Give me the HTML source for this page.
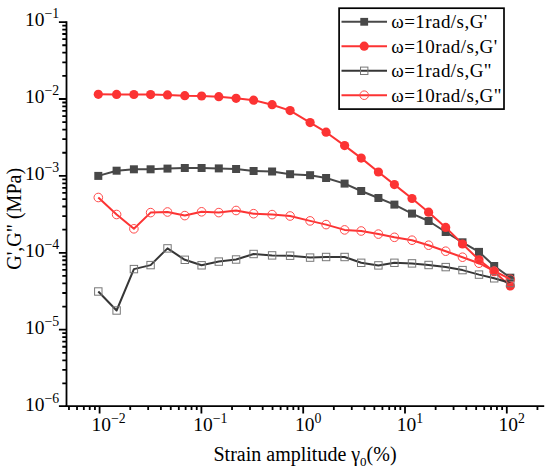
<!DOCTYPE html>
<html><head><meta charset="utf-8"><style>html,body{margin:0;padding:0;background:#fff;width:550px;height:475px;overflow:hidden}svg{display:block}</style></head>
<body><svg width="550" height="475" viewBox="0 0 550 475">
<rect width="550" height="475" fill="#fff"/>
<line x1="66.5" y1="22.1" x2="66.5" y2="406.1" stroke="#000" stroke-width="1.8" stroke-linecap="square"/>
<line x1="65.6" y1="406.1" x2="544.2" y2="406.1" stroke="#000" stroke-width="1.8"/>
<path d="M58.90 22.10H66.5 M62.30 75.85H66.5 M62.30 62.31H66.5 M62.30 52.70H66.5 M62.30 45.25H66.5 M62.30 39.16H66.5 M62.30 34.01H66.5 M62.30 29.55H66.5 M62.30 25.62H66.5 M58.90 99.00H66.5 M62.30 152.75H66.5 M62.30 139.21H66.5 M62.30 129.60H66.5 M62.30 122.15H66.5 M62.30 116.06H66.5 M62.30 110.91H66.5 M62.30 106.45H66.5 M62.30 102.52H66.5 M58.90 175.90H66.5 M62.30 229.65H66.5 M62.30 216.11H66.5 M62.30 206.50H66.5 M62.30 199.05H66.5 M62.30 192.96H66.5 M62.30 187.81H66.5 M62.30 183.35H66.5 M62.30 179.42H66.5 M58.90 252.80H66.5 M62.30 306.55H66.5 M62.30 293.01H66.5 M62.30 283.40H66.5 M62.30 275.95H66.5 M62.30 269.86H66.5 M62.30 264.71H66.5 M62.30 260.25H66.5 M62.30 256.32H66.5 M58.90 329.70H66.5 M62.30 383.45H66.5 M62.30 369.91H66.5 M62.30 360.30H66.5 M62.30 352.85H66.5 M62.30 346.76H66.5 M62.30 341.61H66.5 M62.30 337.15H66.5 M62.30 333.22H66.5 M58.90 406.10H66.5 M68.96 406.1V409.90 M77.02 406.1V409.90 M83.83 406.1V409.90 M89.73 406.1V409.90 M94.94 406.1V409.90 M99.60 406.1V413.60 M130.24 406.1V409.90 M148.17 406.1V409.90 M160.89 406.1V409.90 M170.76 406.1V409.90 M178.82 406.1V409.90 M185.63 406.1V409.90 M191.53 406.1V409.90 M196.74 406.1V409.90 M201.40 406.1V413.60 M232.04 406.1V409.90 M249.97 406.1V409.90 M262.69 406.1V409.90 M272.56 406.1V409.90 M280.62 406.1V409.90 M287.43 406.1V409.90 M293.33 406.1V409.90 M298.54 406.1V409.90 M303.20 406.1V413.60 M333.84 406.1V409.90 M351.77 406.1V409.90 M364.49 406.1V409.90 M374.36 406.1V409.90 M382.42 406.1V409.90 M389.23 406.1V409.90 M395.13 406.1V409.90 M400.34 406.1V409.90 M405.00 406.1V413.60 M435.64 406.1V409.90 M453.57 406.1V409.90 M466.29 406.1V409.90 M476.16 406.1V409.90 M484.22 406.1V409.90 M491.03 406.1V409.90 M496.93 406.1V409.90 M502.14 406.1V409.90 M506.80 406.1V413.60 M537.44 406.1V409.90" stroke="#000" stroke-width="1.8" fill="none"/>
<text font-family="Liberation Serif" font-size="19.5" x="59.1" y="26.30" text-anchor="end">10<tspan font-size="13.8" dy="-8.3">−1</tspan></text>
<text font-family="Liberation Serif" font-size="19.5" x="59.1" y="103.20" text-anchor="end">10<tspan font-size="13.8" dy="-8.3">−2</tspan></text>
<text font-family="Liberation Serif" font-size="19.5" x="59.1" y="180.10" text-anchor="end">10<tspan font-size="13.8" dy="-8.3">−3</tspan></text>
<text font-family="Liberation Serif" font-size="19.5" x="59.1" y="257.00" text-anchor="end">10<tspan font-size="13.8" dy="-8.3">−4</tspan></text>
<text font-family="Liberation Serif" font-size="19.5" x="59.1" y="333.90" text-anchor="end">10<tspan font-size="13.8" dy="-8.3">−5</tspan></text>
<text font-family="Liberation Serif" font-size="19.5" x="59.1" y="410.80" text-anchor="end">10<tspan font-size="13.8" dy="-8.3">−6</tspan></text>
<text font-family="Liberation Serif" font-size="19.5" x="91.40" y="430.60">10<tspan font-size="13.8" dy="-7.5">−2</tspan></text>
<text font-family="Liberation Serif" font-size="19.5" x="193.20" y="430.60">10<tspan font-size="13.8" dy="-7.5">−1</tspan></text>
<text font-family="Liberation Serif" font-size="19.5" x="295.00" y="430.60">10<tspan font-size="13.8" dy="-7.5">0</tspan></text>
<text font-family="Liberation Serif" font-size="19.5" x="396.80" y="430.60">10<tspan font-size="13.8" dy="-7.5">1</tspan></text>
<text font-family="Liberation Serif" font-size="19.5" x="498.60" y="430.60">10<tspan font-size="13.8" dy="-7.5">2</tspan></text>
<text font-family="Liberation Serif" font-size="20" x="213.5" y="461">Strain amplitude γ<tspan font-size="13" dy="4.6">0</tspan><tspan dy="-4.6">(%)</tspan></text>
<text font-family="Liberation Serif" font-size="20" transform="translate(21,269.7) rotate(-90)">G',G" (MPa)</text>
<polyline points="98.3,175.9 116.6,170.7 133.9,169.3 150.6,169.3 167.5,168.6 184.8,168.0 201.6,168.0 218.8,168.4 236.1,169.0 253.6,171.0 272.1,171.5 290.1,174.2 310.1,175.2 326.1,178.0 344.6,183.6 361.2,191.0 378.4,198.0 394.4,204.6 412.0,213.6 428.6,221.0 445.7,232.0 462.5,242.3 479.0,251.9 494.2,266.0 510.3,277.7" fill="none" stroke="#484848" stroke-width="2.0" stroke-linejoin="round"/>
<rect x="94.30" y="171.90" width="8.0" height="8.0" fill="#484848"/>
<rect x="112.60" y="166.70" width="8.0" height="8.0" fill="#484848"/>
<rect x="129.90" y="165.30" width="8.0" height="8.0" fill="#484848"/>
<rect x="146.60" y="165.30" width="8.0" height="8.0" fill="#484848"/>
<rect x="163.50" y="164.60" width="8.0" height="8.0" fill="#484848"/>
<rect x="180.80" y="164.00" width="8.0" height="8.0" fill="#484848"/>
<rect x="197.60" y="164.00" width="8.0" height="8.0" fill="#484848"/>
<rect x="214.80" y="164.40" width="8.0" height="8.0" fill="#484848"/>
<rect x="232.10" y="165.00" width="8.0" height="8.0" fill="#484848"/>
<rect x="249.60" y="167.00" width="8.0" height="8.0" fill="#484848"/>
<rect x="268.10" y="167.50" width="8.0" height="8.0" fill="#484848"/>
<rect x="286.10" y="170.20" width="8.0" height="8.0" fill="#484848"/>
<rect x="306.10" y="171.20" width="8.0" height="8.0" fill="#484848"/>
<rect x="322.10" y="174.00" width="8.0" height="8.0" fill="#484848"/>
<rect x="340.60" y="179.60" width="8.0" height="8.0" fill="#484848"/>
<rect x="357.20" y="187.00" width="8.0" height="8.0" fill="#484848"/>
<rect x="374.40" y="194.00" width="8.0" height="8.0" fill="#484848"/>
<rect x="390.40" y="200.60" width="8.0" height="8.0" fill="#484848"/>
<rect x="408.00" y="209.60" width="8.0" height="8.0" fill="#484848"/>
<rect x="424.60" y="217.00" width="8.0" height="8.0" fill="#484848"/>
<rect x="441.70" y="228.00" width="8.0" height="8.0" fill="#484848"/>
<rect x="458.50" y="238.30" width="8.0" height="8.0" fill="#484848"/>
<rect x="475.00" y="247.90" width="8.0" height="8.0" fill="#484848"/>
<rect x="490.20" y="262.00" width="8.0" height="8.0" fill="#484848"/>
<rect x="506.30" y="273.70" width="8.0" height="8.0" fill="#484848"/>
<polyline points="98.3,94.3 116.6,94.4 133.9,94.5 150.6,94.6 167.5,94.9 184.8,95.7 201.6,96.0 218.8,96.7 236.1,98.3 253.6,100.2 272.1,104.7 290.1,110.6 310.1,122.6 326.1,132.2 344.6,145.6 361.2,158.1 378.4,172.0 394.4,184.6 412.0,198.5 428.6,212.2 445.7,227.4 462.5,244.0 479.0,259.8 494.2,271.7 510.3,286.0" fill="none" stroke="#fc3333" stroke-width="2.0" stroke-linejoin="round"/>
<circle cx="98.30" cy="94.30" r="4.6" fill="#fc3333"/>
<circle cx="116.60" cy="94.40" r="4.6" fill="#fc3333"/>
<circle cx="133.90" cy="94.50" r="4.6" fill="#fc3333"/>
<circle cx="150.60" cy="94.60" r="4.6" fill="#fc3333"/>
<circle cx="167.50" cy="94.90" r="4.6" fill="#fc3333"/>
<circle cx="184.80" cy="95.70" r="4.6" fill="#fc3333"/>
<circle cx="201.60" cy="96.00" r="4.6" fill="#fc3333"/>
<circle cx="218.80" cy="96.70" r="4.6" fill="#fc3333"/>
<circle cx="236.10" cy="98.30" r="4.6" fill="#fc3333"/>
<circle cx="253.60" cy="100.20" r="4.6" fill="#fc3333"/>
<circle cx="272.10" cy="104.70" r="4.6" fill="#fc3333"/>
<circle cx="290.10" cy="110.60" r="4.6" fill="#fc3333"/>
<circle cx="310.10" cy="122.60" r="4.6" fill="#fc3333"/>
<circle cx="326.10" cy="132.20" r="4.6" fill="#fc3333"/>
<circle cx="344.60" cy="145.60" r="4.6" fill="#fc3333"/>
<circle cx="361.20" cy="158.10" r="4.6" fill="#fc3333"/>
<circle cx="378.40" cy="172.00" r="4.6" fill="#fc3333"/>
<circle cx="394.40" cy="184.60" r="4.6" fill="#fc3333"/>
<circle cx="412.00" cy="198.50" r="4.6" fill="#fc3333"/>
<circle cx="428.60" cy="212.20" r="4.6" fill="#fc3333"/>
<circle cx="445.70" cy="227.40" r="4.6" fill="#fc3333"/>
<circle cx="462.50" cy="244.00" r="4.6" fill="#fc3333"/>
<circle cx="479.00" cy="259.80" r="4.6" fill="#fc3333"/>
<circle cx="494.20" cy="271.70" r="4.6" fill="#fc3333"/>
<circle cx="510.30" cy="286.00" r="4.6" fill="#fc3333"/>
<polyline points="98.3,291.5 116.6,310.5 133.9,269.1 150.6,265.1 167.5,248.4 184.8,259.8 201.6,265.3 218.8,261.6 236.1,259.5 253.6,254.0 272.1,255.4 290.1,255.7 310.1,257.6 326.1,257.0 344.6,257.0 361.2,262.8 378.4,265.4 394.4,262.8 412.0,263.4 428.6,265.0 445.7,267.1 462.5,270.1 479.0,274.6 494.2,278.3 510.3,283.0" fill="none" stroke="#363636" stroke-width="2.0" stroke-linejoin="round"/>
<rect x="94.60" y="287.80" width="7.4" height="7.4" fill="none" stroke="#777" stroke-width="1"/>
<rect x="112.90" y="306.80" width="7.4" height="7.4" fill="none" stroke="#777" stroke-width="1"/>
<rect x="130.20" y="265.40" width="7.4" height="7.4" fill="none" stroke="#777" stroke-width="1"/>
<rect x="146.90" y="261.40" width="7.4" height="7.4" fill="none" stroke="#777" stroke-width="1"/>
<rect x="163.80" y="244.70" width="7.4" height="7.4" fill="none" stroke="#777" stroke-width="1"/>
<rect x="181.10" y="256.10" width="7.4" height="7.4" fill="none" stroke="#777" stroke-width="1"/>
<rect x="197.90" y="261.60" width="7.4" height="7.4" fill="none" stroke="#777" stroke-width="1"/>
<rect x="215.10" y="257.90" width="7.4" height="7.4" fill="none" stroke="#777" stroke-width="1"/>
<rect x="232.40" y="255.80" width="7.4" height="7.4" fill="none" stroke="#777" stroke-width="1"/>
<rect x="249.90" y="250.30" width="7.4" height="7.4" fill="none" stroke="#777" stroke-width="1"/>
<rect x="268.40" y="251.70" width="7.4" height="7.4" fill="none" stroke="#777" stroke-width="1"/>
<rect x="286.40" y="252.00" width="7.4" height="7.4" fill="none" stroke="#777" stroke-width="1"/>
<rect x="306.40" y="253.90" width="7.4" height="7.4" fill="none" stroke="#777" stroke-width="1"/>
<rect x="322.40" y="253.30" width="7.4" height="7.4" fill="none" stroke="#777" stroke-width="1"/>
<rect x="340.90" y="253.30" width="7.4" height="7.4" fill="none" stroke="#777" stroke-width="1"/>
<rect x="357.50" y="259.10" width="7.4" height="7.4" fill="none" stroke="#777" stroke-width="1"/>
<rect x="374.70" y="261.70" width="7.4" height="7.4" fill="none" stroke="#777" stroke-width="1"/>
<rect x="390.70" y="259.10" width="7.4" height="7.4" fill="none" stroke="#777" stroke-width="1"/>
<rect x="408.30" y="259.70" width="7.4" height="7.4" fill="none" stroke="#777" stroke-width="1"/>
<rect x="424.90" y="261.30" width="7.4" height="7.4" fill="none" stroke="#777" stroke-width="1"/>
<rect x="442.00" y="263.40" width="7.4" height="7.4" fill="none" stroke="#777" stroke-width="1"/>
<rect x="458.80" y="266.40" width="7.4" height="7.4" fill="none" stroke="#777" stroke-width="1"/>
<rect x="475.30" y="270.90" width="7.4" height="7.4" fill="none" stroke="#777" stroke-width="1"/>
<rect x="490.50" y="274.60" width="7.4" height="7.4" fill="none" stroke="#777" stroke-width="1"/>
<rect x="506.60" y="279.30" width="7.4" height="7.4" fill="none" stroke="#777" stroke-width="1"/>
<polyline points="98.3,197.5 116.6,214.5 133.9,228.8 150.6,212.6 167.5,212.0 184.8,215.6 201.6,211.8 218.8,212.6 236.1,210.5 253.6,213.7 272.1,214.6 290.1,216.0 310.1,220.9 326.1,224.6 344.6,229.9 361.2,231.0 378.4,234.1 394.4,237.3 412.0,240.2 428.6,245.2 445.7,251.2 462.5,257.2 479.0,263.2 494.2,271.0 510.3,279.2" fill="none" stroke="#fc3333" stroke-width="2.0" stroke-linejoin="round"/>
<circle cx="98.30" cy="197.50" r="4.3" fill="none" stroke="#ff4a4a" stroke-width="1"/>
<circle cx="116.60" cy="214.50" r="4.3" fill="none" stroke="#ff4a4a" stroke-width="1"/>
<circle cx="133.90" cy="228.80" r="4.3" fill="none" stroke="#ff4a4a" stroke-width="1"/>
<circle cx="150.60" cy="212.60" r="4.3" fill="none" stroke="#ff4a4a" stroke-width="1"/>
<circle cx="167.50" cy="212.00" r="4.3" fill="none" stroke="#ff4a4a" stroke-width="1"/>
<circle cx="184.80" cy="215.60" r="4.3" fill="none" stroke="#ff4a4a" stroke-width="1"/>
<circle cx="201.60" cy="211.80" r="4.3" fill="none" stroke="#ff4a4a" stroke-width="1"/>
<circle cx="218.80" cy="212.60" r="4.3" fill="none" stroke="#ff4a4a" stroke-width="1"/>
<circle cx="236.10" cy="210.50" r="4.3" fill="none" stroke="#ff4a4a" stroke-width="1"/>
<circle cx="253.60" cy="213.70" r="4.3" fill="none" stroke="#ff4a4a" stroke-width="1"/>
<circle cx="272.10" cy="214.60" r="4.3" fill="none" stroke="#ff4a4a" stroke-width="1"/>
<circle cx="290.10" cy="216.00" r="4.3" fill="none" stroke="#ff4a4a" stroke-width="1"/>
<circle cx="310.10" cy="220.90" r="4.3" fill="none" stroke="#ff4a4a" stroke-width="1"/>
<circle cx="326.10" cy="224.60" r="4.3" fill="none" stroke="#ff4a4a" stroke-width="1"/>
<circle cx="344.60" cy="229.90" r="4.3" fill="none" stroke="#ff4a4a" stroke-width="1"/>
<circle cx="361.20" cy="231.00" r="4.3" fill="none" stroke="#ff4a4a" stroke-width="1"/>
<circle cx="378.40" cy="234.10" r="4.3" fill="none" stroke="#ff4a4a" stroke-width="1"/>
<circle cx="394.40" cy="237.30" r="4.3" fill="none" stroke="#ff4a4a" stroke-width="1"/>
<circle cx="412.00" cy="240.20" r="4.3" fill="none" stroke="#ff4a4a" stroke-width="1"/>
<circle cx="428.60" cy="245.20" r="4.3" fill="none" stroke="#ff4a4a" stroke-width="1"/>
<circle cx="445.70" cy="251.20" r="4.3" fill="none" stroke="#ff4a4a" stroke-width="1"/>
<circle cx="462.50" cy="257.20" r="4.3" fill="none" stroke="#ff4a4a" stroke-width="1"/>
<circle cx="479.00" cy="263.20" r="4.3" fill="none" stroke="#ff4a4a" stroke-width="1"/>
<circle cx="494.20" cy="271.00" r="4.3" fill="none" stroke="#ff4a4a" stroke-width="1"/>
<circle cx="510.30" cy="279.20" r="4.3" fill="none" stroke="#ff4a4a" stroke-width="1"/>
<rect x="339.1" y="8.2" width="164.9" height="100.9" fill="#fff" stroke="#000" stroke-width="1.7"/>
<line x1="341.5" y1="21.8" x2="387" y2="21.8" stroke="#484848" stroke-width="2.0"/>
<rect x="360.3" y="17.900000000000002" width="7.8" height="7.8" fill="#484848"/>
<text font-family="Liberation Serif" font-size="19" letter-spacing="0.45" x="391.2" y="28.1">ω=1rad/s,G'</text>
<line x1="341.5" y1="46.2" x2="387" y2="46.2" stroke="#fc3333" stroke-width="2.0"/>
<circle cx="364.2" cy="46.2" r="4.6" fill="#fc3333"/>
<text font-family="Liberation Serif" font-size="19" letter-spacing="0.45" x="391.2" y="52.5">ω=10rad/s,G'</text>
<line x1="341.5" y1="70.8" x2="387" y2="70.8" stroke="#363636" stroke-width="2.0"/>
<rect x="360.5" y="67.1" width="7.4" height="7.4" fill="none" stroke="#777" stroke-width="1"/>
<text font-family="Liberation Serif" font-size="19" letter-spacing="0.45" x="391.2" y="77.1">ω=1rad/s,G"</text>
<line x1="341.5" y1="95.2" x2="387" y2="95.2" stroke="#fc3333" stroke-width="2.0"/>
<circle cx="364.2" cy="95.2" r="4.3" fill="none" stroke="#ff4a4a" stroke-width="1"/>
<text font-family="Liberation Serif" font-size="19" letter-spacing="0.45" x="391.2" y="101.5">ω=10rad/s,G"</text>
</svg></body></html>
